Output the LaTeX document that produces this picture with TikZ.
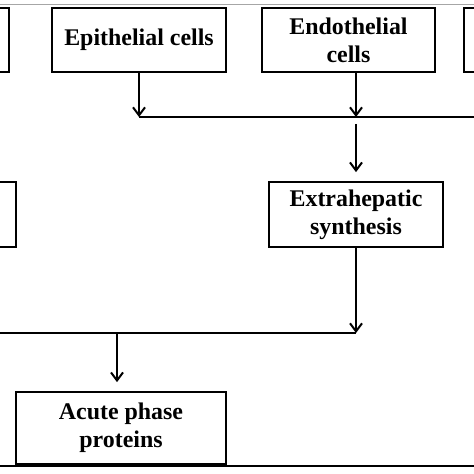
\documentclass[tikz,border=0pt]{standalone}
\usepackage{fontspec}
\setmainfont{Liberation Serif}
\usetikzlibrary{arrows.meta,calc}

\begin{document}
\begin{tikzpicture}[x=1bp, y=-1bp, line width=1.8bp,
    box/.style={draw=black, align=center, inner sep=0pt,
      font=\bfseries\fontsize{24}{28}\selectfont},
    >={Straight Barb[length=8bp,width=12bp,line width=2bp]}]
      \clip (0,0) rectangle (474,474);
      \draw [gray!70, line width=1bp] (0,5) -- (474,5);
      % top row
      \node [box, minimum width=89bp, minimum height=64bp] (leftA) at (-35.5,40) {};
      \node [box, minimum width=174bp, minimum height=64bp] (epi) at (139,40) {Epithelial cells};
      \node [box, minimum width=173bp, minimum height=64bp] (endo) at (348.5,40) {Endothelial\\cells};
      \node [box, minimum width=96bp, minimum height=64bp] (rightA) at (512,40) {};
      % middle row
      \node [box, minimum width=96bp, minimum height=65bp] (leftB) at (-32,214.5) {};
      \node [box, minimum width=174bp, minimum height=65bp] (ext) at (356,214.5) {Extrahepatic\\synthesis};
      % bottom
      \node [box, minimum width=210bp, minimum height=72bp] (apr) at (121,428) {Acute phase\\proteins};
      \coordinate (busA) at (474,117);
      \coordinate (busB) at (0,333);
      \coordinate (joinB) at (117,333);
      \draw [black] (epi.south |- busA) -- (busA);
      \draw [black, ->] (epi.south) -- (epi.south |- busA);
      \draw [black, ->] (ext.north |- endo.south) -- (ext.north |- busA);
      \draw [black, ->, shorten >=9bp] ($(ext.north |- busA)+(0,7)$) -- (ext.north);
      \draw [black, ->] (ext.south) -- (ext.south |- busB);
      \draw [black] (busB) -- (busB -| ext.south);
      \draw [black, ->, shorten >=9bp] (joinB) -- (joinB |- apr.north);
      \draw [black] (0,466) -- (474,466);
\end{tikzpicture}
\end{document}
